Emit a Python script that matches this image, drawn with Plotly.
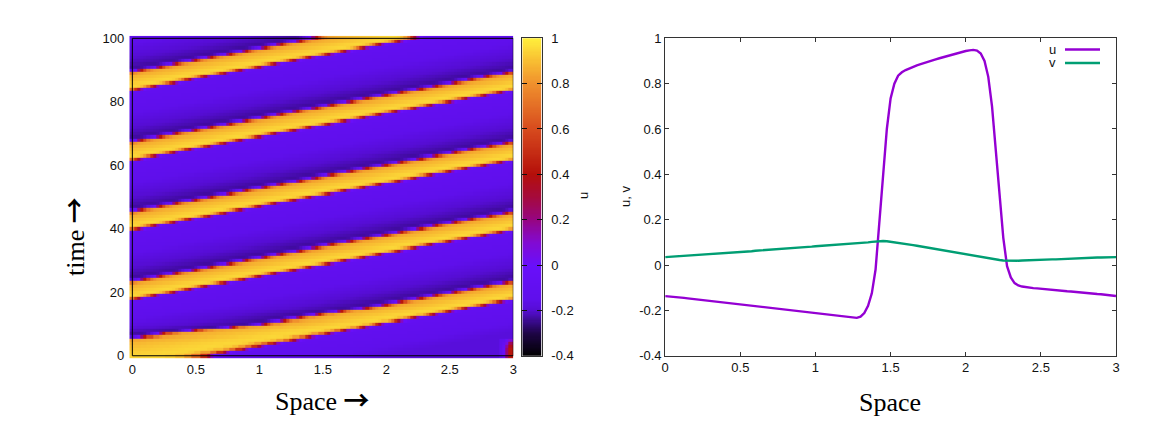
import plotly.graph_objects as go

# ---- data (snapshot at t = 100), 0.025 apart in x ----
x_snapshot = [i * 0.025 for i in range(121)]
u_snapshot = [
 -.137,-.138,-.140,-.142,-.143,-.145,-.147,-.149,-.150,-.152,
 -.154,-.156,-.158,-.160,-.161,-.163,-.165,-.167,-.169,-.171,
 -.173,-.175,-.177,-.179,-.181,-.183,-.185,-.187,-.189,-.191,
 -.193,-.195,-.197,-.199,-.201,-.203,-.205,-.207,-.209,-.211,
 -.213,-.214,-.216,-.218,-.220,-.222,-.224,-.226,-.229,-.231,
 -.233,-.233,-.228,-.212,-.180,-.125,-.020,.200,.420,.600,
 .735,.800,.835,.850,.860,.868,.875,.881,.886,.892,
 .897,.902,.907,.912,.917,.922,.927,.932,.936,.940,
 .944,.947,.949,.946,.933,.900,.830,.700,.500,.300,
 .120,-.005,-.055,-.080,-.090,-.095,-.098,-.100,-.102,-.103,
 -.105,-.107,-.108,-.110,-.111,-.113,-.114,-.116,-.117,-.119,
 -.120,-.122,-.123,-.125,-.126,-.128,-.129,-.131,-.132,-.135,
 -.137]
v_snapshot = [
 .035,.036,.037,.039,.040,.041,.042,.043,.045,.046,
 .047,.048,.049,.050,.051,.052,.053,.054,.055,.056,
 .058,.059,.060,.061,.063,.064,.065,.066,.068,.069,
 .070,.071,.073,.074,.075,.076,.078,.079,.080,.081,
 .083,.084,.085,.086,.087,.089,.091,.092,.093,.094,
 .095,.096,.097,.098,.100,.102,.104,.106,.106,.105,
 .103,.100,.098,.096,.093,.090,.088,.085,.082,.079,
 .076,.073,.070,.068,.065,.062,.059,.056,.053,.050,
 .047,.044,.041,.038,.035,.032,.029,.026,.024,.022,
 .020,.019,.019,.019,.019,.020,.021,.021,.022,.022,
 .023,.023,.024,.025,.025,.026,.027,.027,.028,.029,
 .029,.030,.031,.031,.032,.033,.033,.034,.034,.035,
 .035]

# ---- position of the pulse's leading edge per time row (t = 0 .. 100), in cells of 0.025 ----
front_cell = [
 -457,-452,-446,-441,-436,-430,-425,-419,-414,-408,
 -403,-397,-392,-386,-381,-376,-370,-365,-359,-354,
 -348,-343,-338,-332,-326,-321,-316,-310,-305,-299,
 -294,-288,-283,-277,-272,-267,-261,-256,-250,-245,
 -239,-234,-228,-223,-217,-212,-207,-201,-196,-190,
 -185,-179,-174,-168,-163,-157,-152,-147,-141,-136,
 -130,-125,-119,-114,-108,-103,-97,-92,-87,-81,
 -76,-70,-65,-59,-54,-48,-43,-38,-32,-27,
 -21,-16,-10,-5,1,6,12,17,22,28,
 33,39,44,50,55,61,66,72,77,83,
 88]
# trailing edge of the first, wider band (t = 0 .. 14), in cells
first_band_back = [-60,-45,-35,-28,-20,-8,4,10,20,32,42,48,53,59,66]
# red spot in the bottom right corner: last four cells for t = 0 .. 5
corner_u = [
 [-.12,-.02,.22,.42],
 [-.12,-.02,.22,.42],
 [-.12,-.02,.22,.42],
 [-.13,-.05,.16,.36],
 [-.14,-.09,.06,.26],
 [-.15,-.13,-.05,.08]]

time_rows = list(range(101))
x_ticks = [0, 0.5, 1, 1.5, 2, 2.5, 3]
x_ticktext = ["0", "0.5", "1", "1.5", "2", "2.5", "3"]
t_ticks = [0, 20, 40, 60, 80, 100]
cb_ticks = [-0.4, -0.2, 0, 0.2, 0.4, 0.6, 0.8, 1]
cb_ticktext = ["-0.4", "-0.2", "0", "0.2", "0.4", "0.6", "0.8", "1"]
uv_ticks = [-0.4, -0.2, 0, 0.2, 0.4, 0.6, 0.8, 1]

palette_u = [-0.4, -0.3, -0.25, -0.2, -0.15, -0.1, 0.0, 0.1, 0.2, 0.3, 0.4, 0.6, 0.8, 0.9, 1.0]
palette_rgb = ["rgb(0,0,0)", "rgb(30,5,70)", "rgb(55,10,135)", "rgb(85,13,210)", "rgb(95,15,235)",
               "rgb(98,15,240)", "rgb(105,15,250)",
               "rgb(130,10,210)", "rgb(150,5,130)", "rgb(165,10,60)", "rgb(180,15,10)",
               "rgb(215,75,30)", "rgb(240,145,45)", "rgb(248,190,50)", "rgb(255,240,60)"]

CELLS = 120
SNAP_FRONT, SNAP_BACK = 88, 58
ZMIN, ZMAX = -0.4, 1.0
colorscale = [[(p - ZMIN) / (ZMAX - ZMIN), c] for p, c in zip(palette_u, palette_rgb)]

z = []
for t in time_rows:
    row = []
    for i in range(CELLS):
        if t < len(first_band_back):
            f = front_cell[t] + 480
            b = first_band_back[t]
            if i > f:
                src = min(SNAP_FRONT + i - f, 145)
            elif i >= b:
                src = SNAP_BACK + round((i - b) * (SNAP_FRONT - SNAP_BACK) / (f - b))
            else:
                src = SNAP_BACK - (b - i)
        else:
            src = SNAP_FRONT + i - front_cell[t]
        row.append(u_snapshot[src % CELLS])
    if t < len(corner_u):
        row[-4:] = corner_u[t]
    z.append(row)

W, H = 1160, 428
def px(v): return v / W
def py(v): return 1 - v / H

x_edges = [-0.024] + [(i + 0.5) * 0.025 for i in range(CELLS - 1)] + [3.0]
t_edges = [-0.8] + [t + 0.5 for t in time_rows[:-1]] + [100.8]

tickfont = dict(family="Liberation Sans", size=13, color="#111")
fig = go.Figure()
fig.add_trace(go.Heatmap(x=x_edges, y=t_edges, z=z, zmin=ZMIN, zmax=ZMAX,
                         colorscale=colorscale, showscale=False,
                         xaxis="x", yaxis="y"))
cb_levels = [ZMIN + k * (ZMAX - ZMIN) / 280 for k in range(281)]
fig.add_trace(go.Heatmap(x=[-0.5, 0.5], y=cb_levels, z=[[c] for c in cb_levels], zmin=ZMIN, zmax=ZMAX,
                         colorscale=colorscale, showscale=False,
                         xaxis="x3", yaxis="y3"))
fig.add_trace(go.Scatter(x=x_snapshot, y=u_snapshot, mode="lines", name="u",
                         line=dict(color="#9400d3", width=2.4), xaxis="x2", yaxis="y2"))
fig.add_trace(go.Scatter(x=x_snapshot, y=v_snapshot, mode="lines", name="v",
                         line=dict(color="#009e73", width=2.4), xaxis="x2", yaxis="y2"))

fig.update_layout(
    template="none",
    width=W, height=H, margin=dict(l=0, r=0, t=0, b=0), showlegend=False,
    paper_bgcolor="white", plot_bgcolor="white",
    xaxis=dict(domain=[px(129.3), px(513.3)], range=[-0.024, 3.0], tickvals=x_ticks, ticktext=x_ticktext,
               ticks="", showgrid=False, zeroline=False, tickfont=tickfont, anchor="y",
               ticklabelstandoff=2, automargin=False, showline=False),
    yaxis=dict(domain=[py(358.3), py(35.8)], range=[-0.8, 100.8], tickvals=t_ticks,
               ticks="", showgrid=False, zeroline=False, tickfont=tickfont, anchor="x",
               ticklabelstandoff=4, automargin=False, showline=False),
    xaxis2=dict(domain=[px(665.2), px(1116)], range=[0, 3], tickvals=x_ticks, ticktext=x_ticktext,
                ticks="inside", ticklen=4, tickcolor="#333", showline=True, mirror="allticks", linecolor="#333",
                showgrid=False, zeroline=False, tickfont=tickfont, anchor="y2", automargin=False),
    yaxis2=dict(domain=[py(355.7), py(38.3)], range=[-0.4, 1], tickvals=uv_ticks, ticktext=cb_ticktext,
                ticks="inside", ticklen=4, tickcolor="#333", showline=True, mirror="allticks", linecolor="#333",
                showgrid=False, zeroline=False, tickfont=tickfont, anchor="x2", automargin=False),
    xaxis3=dict(domain=[px(522.3), px(541.7)], range=[-0.5, 0.5], showticklabels=False, ticks="",
                showline=True, mirror=True, linecolor="#333", showgrid=False, zeroline=False, anchor="y3",
                automargin=False),
    yaxis3=dict(domain=[py(355.7), py(38.3)], range=[-0.4, 1], tickvals=cb_ticks, ticktext=cb_ticktext,
                side="right", ticks="inside", ticklen=5, tickcolor="#111", showline=True, mirror="allticks",
                linecolor="#333", showgrid=False, zeroline=False, tickfont=tickfont, anchor="x3",
                ticklabelstandoff=6, automargin=False),
    shapes=[
        dict(type="rect", xref="x", yref="y", x0=0, x1=3, y0=0, y1=100, line=dict(color="black", width=1), layer="above"),
        dict(type="line", xref="paper", yref="paper", x0=px(1065), x1=px(1100), y0=py(49.5), y1=py(49.5),
             line=dict(color="#9400d3", width=2.4)),
        dict(type="line", xref="paper", yref="paper", x0=px(1065), x1=px(1100), y0=py(63), y1=py(63),
             line=dict(color="#009e73", width=2.4)),
    ],
)

def note(text, x, y, size, family, angle=0, xanchor="center", color="#111"):
    fig.add_annotation(text=text, xref="paper", yref="paper", x=px(x), y=py(y), showarrow=False,
                       font=dict(family=family, size=size, color=color), textangle=angle,
                       xanchor=xanchor, yanchor="middle", align="center")

ARROW = "<span style='font-family:Noto Sans CJK JP;font-weight:bold'>→</span>"
note("Space " + ARROW, 323, 398, 26, "Liberation Serif", color="black")
note("Space", 890, 402, 26, "Liberation Serif", color="black")
note("time " + ARROW, 72, 237, 26, "Liberation Serif", angle=-90, color="black")
note("u", 584, 196, 13, "Liberation Sans", angle=-90)
note("u, v", 625, 197, 13, "Liberation Sans", angle=-90)
note("u", 1058, 49.5, 13, "Liberation Sans", xanchor="right")
note("v", 1058, 63, 13, "Liberation Sans", xanchor="right")

fig.write_html("out.html", config=dict(displayModeBar=False), post_script="document.body.style.margin='0';")
